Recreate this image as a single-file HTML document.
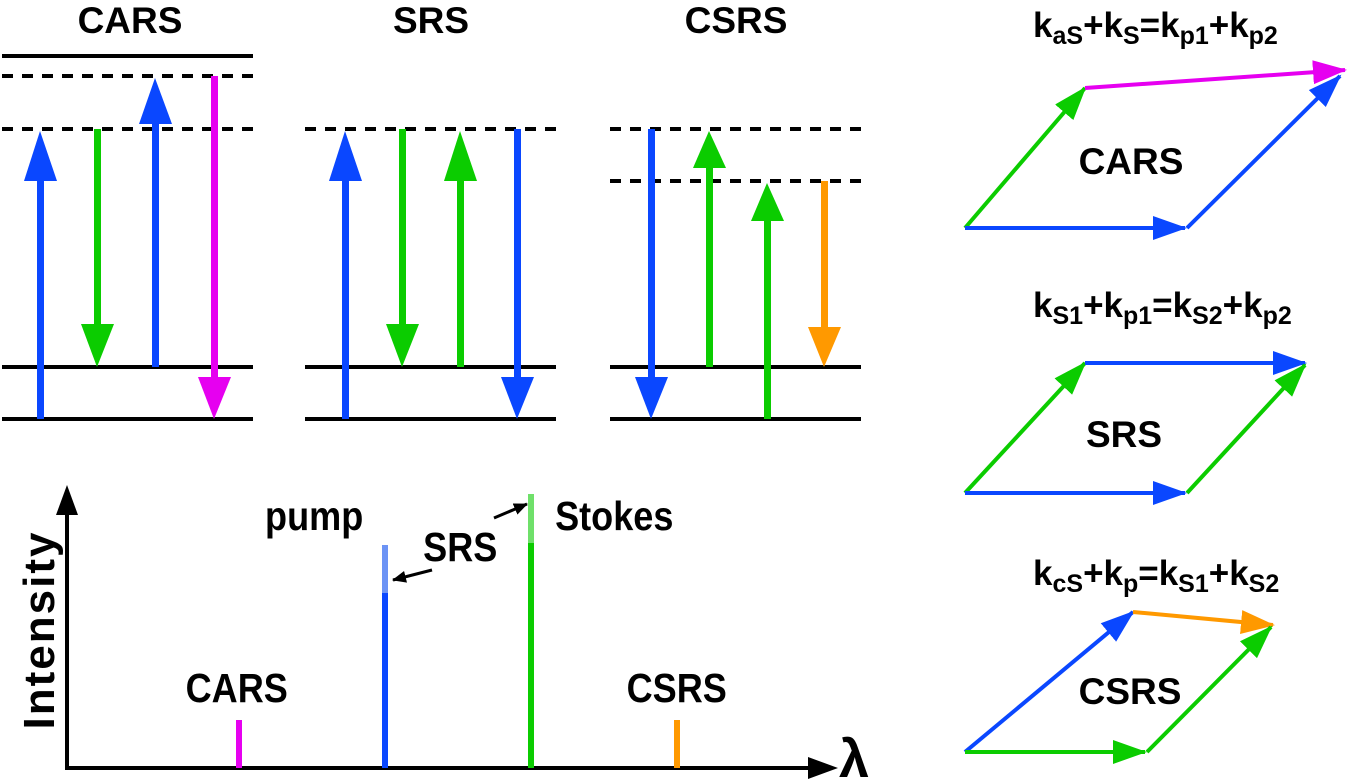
<!DOCTYPE html>
<html><head><meta charset="utf-8"><style>
html,body{margin:0;padding:0;background:#fff;}
svg{display:block;}
text{font-family:"Liberation Sans",Arial,sans-serif;font-weight:bold;fill:#000;}
</style></head><body>
<svg width="1347" height="782" viewBox="0 0 1347 782" xmlns="http://www.w3.org/2000/svg">
<defs>
<marker id="mb" markerUnits="userSpaceOnUse" markerWidth="34" markerHeight="24" refX="32" refY="12" orient="auto"><path d="M0,0 L34,12 L0,24 Z" fill="#0a47ff"/></marker>
<marker id="mg" markerUnits="userSpaceOnUse" markerWidth="34" markerHeight="24" refX="32" refY="12" orient="auto"><path d="M0,0 L34,12 L0,24 Z" fill="#0bcc00"/></marker>
<marker id="mm" markerUnits="userSpaceOnUse" markerWidth="34" markerHeight="24" refX="32" refY="12" orient="auto"><path d="M0,0 L34,12 L0,24 Z" fill="#e600f0"/></marker>
<marker id="mo" markerUnits="userSpaceOnUse" markerWidth="34" markerHeight="24" refX="32" refY="12" orient="auto"><path d="M0,0 L34,12 L0,24 Z" fill="#ff9900"/></marker>
<marker id="mk" markerUnits="userSpaceOnUse" markerWidth="14" markerHeight="12" refX="13" refY="6" orient="auto"><path d="M0,0 L14,6 L0,12 Z" fill="#000"/></marker>
</defs>

<!-- Titles -->
<text x="130" y="33" font-size="37" text-anchor="middle">CARS</text>
<text x="431" y="33" font-size="37" text-anchor="middle">SRS</text>
<text x="736" y="33" font-size="37" text-anchor="middle">CSRS</text>

<g stroke="#000" stroke-width="4">
<line x1="2" y1="56" x2="253" y2="56"/>
<line x1="2" y1="76" x2="253" y2="76" stroke-dasharray="11,9"/>
<line x1="2" y1="129" x2="253" y2="129" stroke-dasharray="11,9"/>
<line x1="2" y1="367" x2="253" y2="367"/>
<line x1="2" y1="419" x2="253" y2="419"/>
<line x1="305" y1="129" x2="556" y2="129" stroke-dasharray="11,9"/>
<line x1="305" y1="367" x2="556" y2="367"/>
<line x1="305" y1="419" x2="556" y2="419"/>
<line x1="610" y1="129" x2="861" y2="129" stroke-dasharray="11,9"/>
<line x1="610" y1="181" x2="861" y2="181" stroke-dasharray="11,9"/>
<line x1="610" y1="367" x2="861" y2="367"/>
<line x1="610" y1="419" x2="861" y2="419"/>
</g>

<!-- CARS arrows -->
<rect x="37" y="170" width="7" height="249" fill="#0a47ff"/><polygon points="24,181 57,181 40,131" fill="#0a47ff"/>
<rect x="94" y="129" width="7" height="200" fill="#0bcc00"/><polygon points="81,324 114,324 97,367" fill="#0bcc00"/>
<rect x="152" y="115" width="7" height="252" fill="#0a47ff"/><polygon points="139,124 172,124 155,78" fill="#0a47ff"/>
<rect x="211" y="76" width="7" height="305" fill="#e600f0"/><polygon points="198,377 231,377 214,419" fill="#e600f0"/>

<!-- SRS arrows -->
<rect x="342" y="170" width="7" height="249" fill="#0a47ff"/><polygon points="329,181 362,181 345,131" fill="#0a47ff"/>
<rect x="399" y="129" width="7" height="200" fill="#0bcc00"/><polygon points="386,324 419,324 402,367" fill="#0bcc00"/>
<rect x="457" y="170" width="7" height="197" fill="#0bcc00"/><polygon points="444,181 477,181 460,131" fill="#0bcc00"/>
<rect x="514" y="129" width="7" height="252" fill="#0a47ff"/><polygon points="501,377 534,377 517,419" fill="#0a47ff"/>

<!-- CSRS arrows -->
<rect x="648" y="129" width="7" height="252" fill="#0a47ff"/><polygon points="635,377 668,377 651,419" fill="#0a47ff"/>
<rect x="706" y="160" width="7" height="207" fill="#0bcc00"/><polygon points="693,168 726,168 709,131" fill="#0bcc00"/>
<rect x="764" y="215" width="7" height="204" fill="#0bcc00"/><polygon points="751,221 784,221 767,183" fill="#0bcc00"/>
<rect x="821" y="181" width="7" height="150" fill="#ff9900"/><polygon points="808,327 841,327 824,367" fill="#ff9900"/>

<!-- Spectrum axes -->
<line x1="67" y1="770" x2="67" y2="510" stroke="#000" stroke-width="4"/>
<polygon points="56,515 78,515 67,485" fill="#000"/>
<line x1="65" y1="768" x2="810" y2="768" stroke="#000" stroke-width="4"/>
<polygon points="808,757 808,779 838,768" fill="#000"/>
<text x="854" y="777" font-size="54" text-anchor="middle" font-family="Liberation Serif,serif">λ</text>
<text transform="translate(54,630) rotate(-90)" font-size="44" letter-spacing="2" text-anchor="middle">Intensity</text>

<!-- Bars -->
<rect x="236" y="720" width="6" height="48" fill="#e600f0"/>
<rect x="382" y="545" width="6" height="48" fill="#6c93f5"/>
<rect x="382" y="593" width="6" height="175" fill="#0a47ff"/>
<rect x="528" y="494" width="6" height="49" fill="#6fe06a"/>
<rect x="528" y="543" width="6" height="225" fill="#0bcc00"/>
<rect x="674" y="720" width="6" height="48" fill="#ff9900"/>

<g font-size="41" transform="scale(0.88,1)">
<text x="357" y="530" text-anchor="middle">pump</text>
<text x="523" y="561" text-anchor="middle">SRS</text>
<text x="698" y="530" text-anchor="middle">Stokes</text>
<text x="269" y="702" text-anchor="middle">CARS</text>
<text x="769" y="702" text-anchor="middle">CSRS</text>
</g>
<line x1="432" y1="570" x2="393" y2="580" stroke="#000" stroke-width="3" marker-end="url(#mk)"/>
<line x1="494" y1="518" x2="527" y2="504" stroke="#000" stroke-width="3" marker-end="url(#mk)"/>

<!-- Vector diagrams -->
<g font-size="35">
<text x="1033" y="37">k<tspan font-size="25" dy="7">aS</tspan><tspan dy="-7">+k</tspan><tspan font-size="25" dy="7">S</tspan><tspan dy="-7">=k</tspan><tspan font-size="25" dy="7">p1</tspan><tspan dy="-7">+k</tspan><tspan font-size="25" dy="7">p2</tspan></text>
<text x="1033" y="317">k<tspan font-size="25" dy="7">S1</tspan><tspan dy="-7">+k</tspan><tspan font-size="25" dy="7">p1</tspan><tspan dy="-7">=k</tspan><tspan font-size="25" dy="7">S2</tspan><tspan dy="-7">+k</tspan><tspan font-size="25" dy="7">p2</tspan></text>
<text x="1033" y="585">k<tspan font-size="25" dy="7">cS</tspan><tspan dy="-7">+k</tspan><tspan font-size="25" dy="7">p</tspan><tspan dy="-7">=k</tspan><tspan font-size="25" dy="7">S1</tspan><tspan dy="-7">+k</tspan><tspan font-size="25" dy="7">S2</tspan></text>
</g>
<g font-size="37">
<text x="1131" y="174" text-anchor="middle">CARS</text>
<text x="1124" y="447" text-anchor="middle">SRS</text>
<text x="1130" y="704" text-anchor="middle">CSRS</text>
</g>
<g stroke-width="4" fill="none">
<line x1="965" y1="228" x2="1085" y2="88" stroke="#0bcc00" marker-end="url(#mg)"/>
<line x1="1085" y1="88" x2="1345" y2="70" stroke="#e600f0" marker-end="url(#mm)"/>
<line x1="965" y1="228" x2="1185" y2="228" stroke="#0a47ff" marker-end="url(#mb)"/>
<line x1="1187" y1="228" x2="1340" y2="76" stroke="#0a47ff" marker-end="url(#mb)"/>

<line x1="965" y1="493" x2="1085" y2="363" stroke="#0bcc00" marker-end="url(#mg)"/>
<line x1="1085" y1="363" x2="1305" y2="363" stroke="#0a47ff" marker-end="url(#mb)"/>
<line x1="965" y1="493" x2="1185" y2="493" stroke="#0a47ff" marker-end="url(#mb)"/>
<line x1="1187" y1="493" x2="1305" y2="365" stroke="#0bcc00" marker-end="url(#mg)"/>

<line x1="965" y1="752" x2="1133" y2="612" stroke="#0a47ff" marker-end="url(#mb)"/>
<line x1="1133" y1="612" x2="1273" y2="625" stroke="#ff9900" marker-end="url(#mo)"/>
<line x1="965" y1="752" x2="1145" y2="752" stroke="#0bcc00" marker-end="url(#mg)"/>
<line x1="1147" y1="752" x2="1271" y2="627" stroke="#0bcc00" marker-end="url(#mg)"/>
</g>
</svg>
</body></html>
